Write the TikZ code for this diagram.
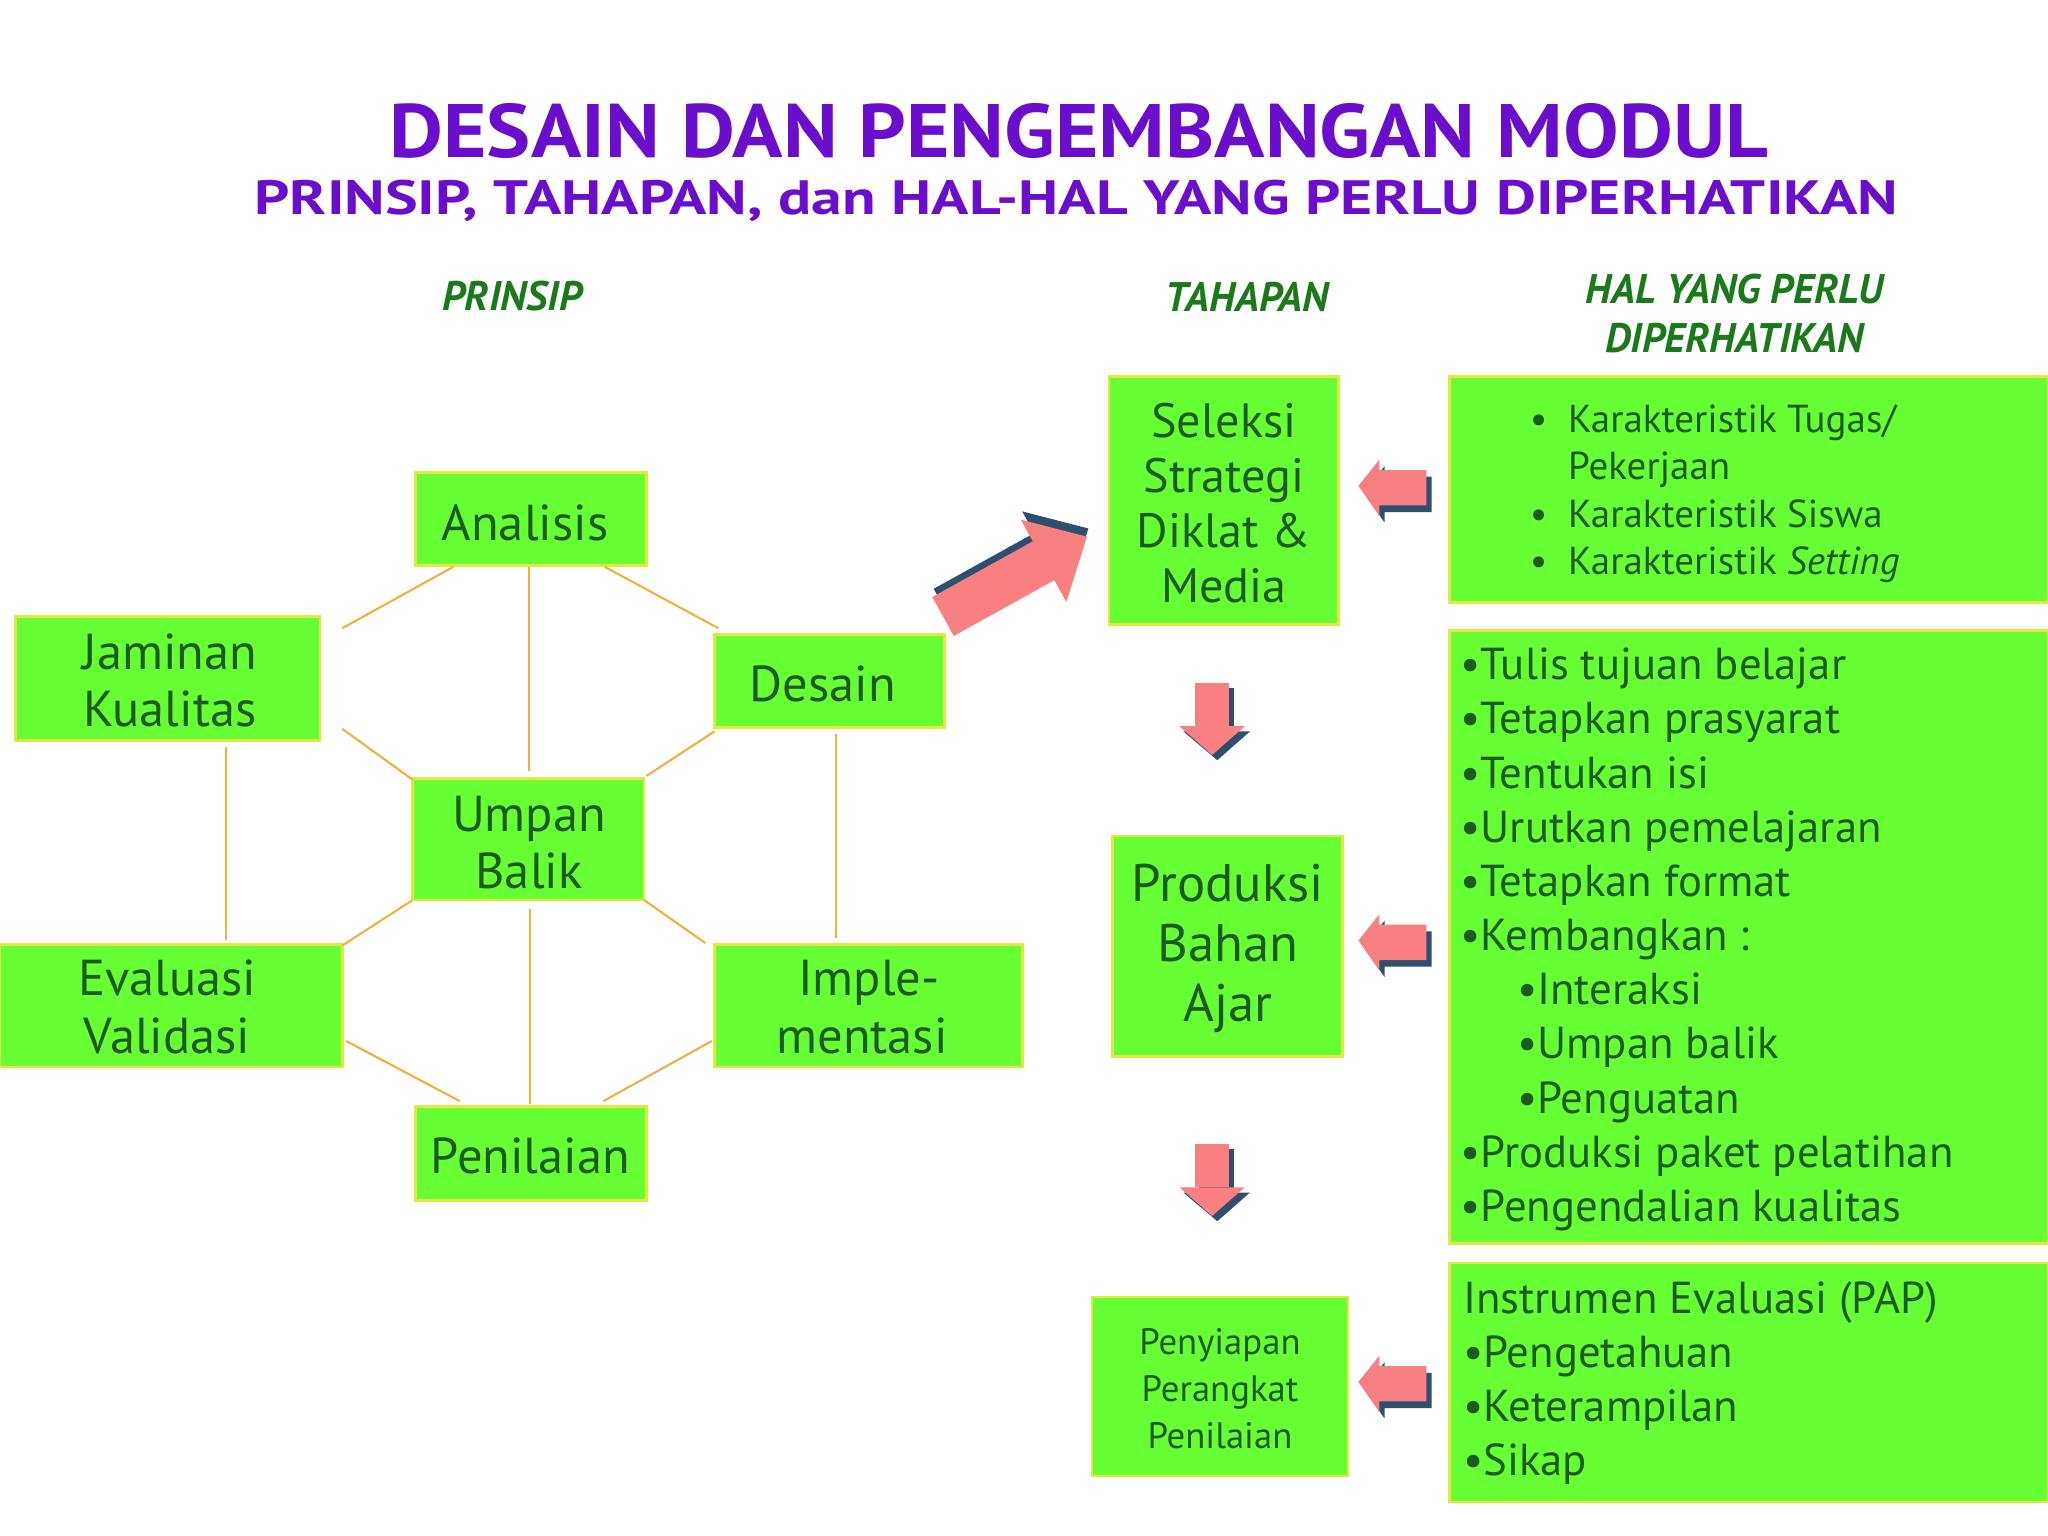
\documentclass[tikz,border=0pt]{standalone}
\usepackage{fontspec}
\setmainfont{PT Sans}
\begin{document}
\begin{tikzpicture}[x=0.02cm,y=-0.02cm]
\definecolor{bx}{HTML}{66FF33}\definecolor{bd}{HTML}{E6E640}
\definecolor{tg}{HTML}{1E5A1E}\definecolor{hg}{HTML}{1A7A1A}
\definecolor{pu}{HTML}{6A0DCC}\definecolor{ln}{HTML}{F0B040}
\definecolor{pk}{HTML}{F88080}\definecolor{sh}{HTML}{2F4F6F}
\tikzset{box/.style={draw=bd,line width=1.2pt,fill=bx},
 bt/.style={text=tg,align=center,font=\fontsize{22}{25}\selectfont},
 lk/.style={draw=ln,line width=0.9pt},
 hd/.style={text=hg,font=\fontsize{18}{21}\selectfont\bfseries\itshape,align=center}}
\useasboundingbox (0,0) rectangle (1568,1176);
\fill[white] (0,0) rectangle (1568,1176);
\node[text=pu,font=\fontsize{33}{36}\selectfont\bfseries,xscale=1.1] (t1) at (826,100) {DESAIN DAN PENGEMBANGAN MODUL};
\node[text=pu,font=\fontsize{21}{24}\selectfont\bfseries,xscale=1.28] (t2) at (824,154) {PRINSIP, TAHAPAN, dan HAL-HAL YANG PERLU DIPERHATIKAN};
\node[hd] (h1) at (392,227) {PRINSIP};
\node[hd] (h2) at (955,227) {TAHAPAN};
\node[hd] (h3) at (1328,240) {HAL YANG PERLU\\DIPERHATIKAN};
% left boxes
\draw[box] (318,362) rectangle (495,433); \node[bt] (an) at (402,400) {Analisis};
\draw[box] (12,472) rectangle (245,567); \node[bt] (jk) at (130,521) {Jaminan\\Kualitas};
\draw[box] (547,486) rectangle (723,557); \node[bt] (de) at (630,524) {Desain};
\draw[box] (316,596) rectangle (493,689); \node[bt] (ub) at (405,645) {Umpan\\Balik};
\draw[box] (0,723) rectangle (262,817); \node[bt] (ev) at (128,771) {Evaluasi\\ Validasi};
\draw[box] (547,723) rectangle (783,817); \node[bt] (im) at (660,771) {\ Imple-\\mentasi};
\draw[box] (318,847) rectangle (495,919); \node[bt] (pe) at (406,885) {Penilaian};
% lines
\draw[lk] (347,434)--(262,481); \draw[lk] (405,434)--(405,590); \draw[lk] (463,434)--(550,481);
\draw[lk] (262,558)--(316,597); \draw[lk] (547,560)--(495,594);
\draw[lk] (173,572)--(173,720); \draw[lk] (640,562)--(640,718);
\draw[lk] (316,689)--(262,724); \draw[lk] (493,689)--(540,722); \draw[lk] (406,696)--(406,845);
\draw[lk] (265,797)--(352,843); \draw[lk] (545,797)--(462,843);
% middle boxes
\draw[box] (849,288) rectangle (1025,478); \node[bt,font=\fontsize{21}{24}\selectfont] (se) at (937,385) {Seleksi\\Strategi\\Diklat \&\\Media};
\draw[box] (852,640) rectangle (1028,809); \node[bt,font=\fontsize{23}{26}\selectfont] (pr) at (940,726) {Produksi\\Bahan\\Ajar};
\draw[box] (836,993) rectangle (1032,1130); \node[bt,font=\fontsize{16}{20.5}\selectfont] (py) at (934,1063) {Penyiapan\\Perangkat\\Penilaian};
% right boxes
\draw[box] (1110,288) rectangle (1568,461);
\node[text=tg,anchor=north west,align=left,font=\fontsize{17}{20.5}\selectfont] (r1) at (1165,304) {\textbullet\ \ Karakteristik Tugas/\\\phantom{\textbullet\ \ }Pekerjaan\\\textbullet\ \ Karakteristik Siswa\\\textbullet\ \ Karakteristik \textit{Setting}};
\draw[box] (1110,483) rectangle (1568,952);
\node[text=tg,anchor=north west,align=left,font=\fontsize{19.5}{23.6}\selectfont] (r2) at (1112,490) {\textbullet Tulis tujuan belajar\\\textbullet Tetapkan prasyarat\\\textbullet Tentukan isi\\\textbullet Urutkan pemelajaran\\\textbullet Tetapkan format\\\textbullet Kembangkan :\\\quad\ \textbullet Interaksi\\\quad\ \textbullet Umpan balik\\\quad\ \textbullet Penguatan\\\textbullet Produksi paket pelatihan\\\textbullet Pengendalian kualitas};
\draw[box] (1110,967) rectangle (1568,1150);
\node[text=tg,anchor=north west,align=left,font=\fontsize{19.5}{23.6}\selectfont] (r3) at (1114,975) {Instrumen Evaluasi (PAP)\\\textbullet Pengetahuan\\\textbullet Keterampilan\\\textbullet Sikap};
% left arrows
\foreach \yy in {372,720,1058}{
 \fill[sh] (1044,\yy+5) -- (1060,\yy-15) -- (1060,\yy-7) -- (1096,\yy-7) -- (1096,\yy+20) -- (1060,\yy+20) -- (1060,\yy+28) -- cycle;
 \fill[pk] (1040,\yy) -- (1056,\yy-20) -- (1056,\yy-12) -- (1092,\yy-12) -- (1092,\yy+15) -- (1056,\yy+15) -- (1056,\yy+23) -- cycle;}
% down arrows
\foreach \yy in {523,876}{
 \fill[sh] (918,\yy+4) rectangle (945,\yy+37); \fill[sh] (906,\yy+37) -- (957,\yy+37) -- (932,\yy+59) -- cycle;
 \fill[pk] (915,\yy) rectangle (941,\yy+33); \fill[pk] (903,\yy+33) -- (953,\yy+33) -- (928,\yy+55) -- cycle;}
% diagonal arrow
\begin{scope}[shift={(722,472)},rotate=29]
 \fill[sh,shift={(4,-5)}] (0,-17) -- (88,-17) -- (88,-36) -- (126,0) -- (88,36) -- (88,17) -- (0,17) -- cycle;
 \fill[pk] (0,-17) -- (88,-17) -- (88,-36) -- (126,0) -- (88,36) -- (88,17) -- (0,17) -- cycle;
\end{scope}
\end{tikzpicture}
\end{document}
